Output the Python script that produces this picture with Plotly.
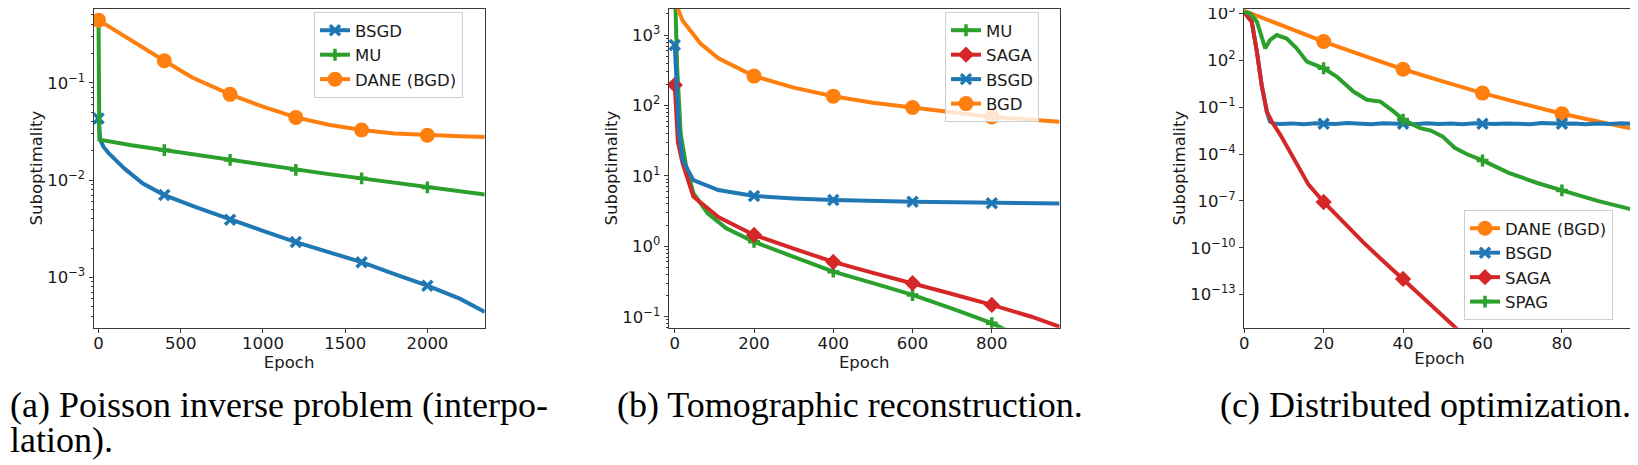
import math
import plotly.graph_objects as go

W, H = 1638, 465
# the page body keeps its default 8px margin, so the figure starts 8px in
PAGE = 8
FW, FH = W - PAGE, H - PAGE

BLUE, ORANGE, GREEN, RED = "#1f77b4", "#ff7f0e", "#2ca02c", "#d62728"
FRAME = "#3a3a3a"
TEXT = "#1a1a1a"

# ---------------- (a) Poisson inverse problem ----------------
A_BSGD_X = [0, 10, 30, 60, 100, 160, 270, 400, 600, 800, 1000, 1200, 1400, 1600, 1800, 2000, 2200, 2350]
A_BSGD_Y = [0.043, 0.026, 0.022, 0.019, 0.0163, 0.0130, 0.0092, 0.0070, 0.0052, 0.0039, 0.0030,
            0.0023, 0.0018, 0.00143, 0.00108, 0.00082, 0.00060, 0.00044]
A_MU_X = [0, 5, 200, 400, 600, 800, 1000, 1200, 1400, 1600, 1800, 2000, 2200, 2350]
A_MU_Y = [0.44, 0.026, 0.0228, 0.0203, 0.0181, 0.0161, 0.0143, 0.0127, 0.0115, 0.0104, 0.0094,
          0.0084, 0.0077, 0.0071]
A_DANE_X = [0, 200, 400, 570, 800, 1000, 1200, 1400, 1600, 1800, 2000, 2200, 2350]
A_DANE_Y = [0.44, 0.27, 0.168, 0.113, 0.076, 0.0567, 0.044, 0.037, 0.0327, 0.030, 0.0288, 0.0281, 0.0276]
A_MARKS = [0, 400, 800, 1200, 1600, 2000]
A_XTICKS = [0, 500, 1000, 1500, 2000]
A_YTICKS = [1e-3, 1e-2, 1e-1]
A_YTEXT = ["10<sup>−3</sup>", "10<sup>−2</sup>", "10<sup>−1</sup>"]

# ---------------- (b) Tomographic reconstruction ----------------
B_MU_X = [0, 6, 15, 29, 47, 83, 130, 200, 300, 400, 500, 600, 700, 800, 840]
B_MU_Y = [6000, 355, 40, 13.5, 5.7, 2.95, 1.8, 1.16, 0.71, 0.437, 0.30, 0.204, 0.13, 0.081, 0.063]
B_SAGA_X = [0, 8, 20, 47, 110, 200, 300, 400, 500, 600, 700, 800, 900, 971]
B_SAGA_Y = [196, 30, 15, 5.1, 2.6, 1.45, 0.93, 0.60, 0.42, 0.30, 0.21, 0.147, 0.10, 0.072]
B_BSGD_X = [0, 5, 11, 20, 47, 110, 200, 300, 400, 600, 800, 971]
B_BSGD_Y = [727, 150, 40, 16.8, 8.7, 6.3, 5.2, 4.8, 4.55, 4.3, 4.1, 4.05]
B_BGD_X = [0, 10, 20, 65, 110, 200, 300, 400, 500, 600, 700, 800, 900, 971]
B_BGD_Y = [3500, 2200, 1600, 760, 470, 262, 180, 136, 110, 94, 80, 69, 63, 59]
B_MARKS = [0, 200, 400, 600, 800]
B_XTICKS = [0, 200, 400, 600, 800]
B_YTICKS = [1e-1, 1, 10, 100, 1000]
B_YTEXT = ["10<sup>−1</sup>", "10<sup>0</sup>", "10<sup>1</sup>", "10<sup>2</sup>", "10<sup>3</sup>"]

# ---------------- (c) Distributed optimization ----------------
C_DANE_X = [0, 10, 20, 30, 40, 50, 60, 70, 80, 90, 98.4]
C_DANE_Y = [1.5e5, 1.5e4, 1.6e3, 2.0e2, 27, 4.5, 0.8, 0.17, 0.038, 0.011, 0.0038]
C_BSGD_X = [0, 1.9, 3.2, 4.4, 5.7, 6.5, 7.5, 9, 12, 15, 18, 20, 23, 26, 29, 32, 35, 38, 40, 43,
            46, 49, 52, 55, 58, 60, 63, 66, 69, 72, 75, 78, 80, 83, 86, 89, 92, 95, 98.4]
C_BSGD_Y = [1.2e5, 3.0e4, 3.5e2, 2.6, 0.052, 0.012, 0.0090, 0.0084, 0.0092, 0.0080, 0.0094, 0.0086,
            0.0083, 0.0097, 0.0085, 0.0081, 0.0093, 0.0088, 0.0086, 0.0082, 0.0095, 0.0084, 0.0091,
            0.0080, 0.0094, 0.0086, 0.0083, 0.0092, 0.0087, 0.0081, 0.0096, 0.0084, 0.0086, 0.0092,
            0.0082, 0.0090, 0.0085, 0.0094, 0.0083]
C_SAGA_X = [0, 1.9, 3.2, 4.4, 5.7, 6.9, 9.1, 12.5, 16.2, 20, 25, 30, 35, 40, 45, 50, 54]
C_SAGA_Y = [1.2e5, 3.0e4, 3.5e2, 2.6, 5.2e-2, 1.26e-2, 1.7e-3, 5.0e-5, 1.1e-6, 8.5e-8, 4.0e-9,
            2.2e-10, 1.4e-11, 1.0e-12, 6.3e-14, 4.5e-15, 5.0e-16]
C_SPAG_X = [0, 1.5, 3.2, 4.8, 5.3, 6.5, 8.2, 10.7, 13.2, 15.8, 20, 23.3, 27.5, 30.9, 34.3, 37.6,
            40, 44.3, 47, 50, 53, 56, 60, 66.6, 73.8, 80, 89, 98.4]
C_SPAG_Y = [1.3e5, 1.0e5, 3.0e4, 1.6e3, 5.9e2, 2.0e3, 4.2e3, 2.5e3, 5.9e2, 83, 31, 9.1, 1.0, 0.30,
            0.23, 0.054, 0.016, 4.6e-3, 3.2e-3, 1.3e-3, 2.5e-4, 1.0e-4, 3.9e-5, 6.3e-6, 1.4e-6,
            4.7e-7, 1.0e-7, 2.5e-8]
C_MARKS = [20, 40, 60, 80]
C_XTICKS = [0, 20, 40, 60, 80]
C_YTICKS = [1e-13, 1e-10, 1e-7, 1e-4, 1e-1, 1e2, 1e5]
C_YTEXT = ["10<sup>−13</sup>", "10<sup>−10</sup>", "10<sup>−7</sup>", "10<sup>−4</sup>",
           "10<sup>−1</sup>", "10<sup>2</sup>", "10<sup>5</sup>"]

CAPTIONS = [
    "(a) Poisson inverse problem (interpo-",
    "lation).",
    "(b) Tomographic reconstruction.",
    "(c) Distributed optimization.",
]

STYLE = {
    "BSGD": (BLUE, "x-thin", 10),
    "MU": (GREEN, "cross-thin", 8.5),
    "SPAG": (GREEN, "cross-thin", 8.5),
    "SAGA": (RED, "diamond", 12.5),
    "BGD": (ORANGE, "circle", 15),
    "DANE (BGD)": (ORANGE, "circle", 15),
}

fig = go.Figure()


def add_series(xs, ys, marks, name, ax, legend):
    color, symbol, size = STYLE[name]
    xa, ya = ("x", "y") if ax == 1 else (f"x{ax}", f"y{ax}")
    thin = symbol.endswith("thin")
    marker = dict(symbol=symbol, size=size, color=color,
                  line=dict(color=color, width=3.5 if thin else 0))
    line = dict(color=color, width=4)
    mx = [x for x in xs if x in marks]
    my = [y for x, y in zip(xs, ys) if x in marks]
    fig.add_trace(go.Scatter(x=xs, y=ys, mode="lines", line=line, xaxis=xa, yaxis=ya,
                             showlegend=False, hoverinfo="skip"))
    fig.add_trace(go.Scatter(x=mx, y=my, mode="markers", marker=marker, xaxis=xa, yaxis=ya,
                             showlegend=False, name=name))
    # legend-only entry showing both line and marker
    fig.add_trace(go.Scatter(x=[None], y=[None], mode="lines+markers", line=line, marker=marker,
                             xaxis=xa, yaxis=ya, name=name, legend=legend))


add_series(A_BSGD_X, A_BSGD_Y, A_MARKS, "BSGD", 1, "legend")
add_series(A_MU_X, A_MU_Y, A_MARKS, "MU", 1, "legend")
add_series(A_DANE_X, A_DANE_Y, A_MARKS, "DANE (BGD)", 1, "legend")

add_series(B_MU_X, B_MU_Y, B_MARKS, "MU", 2, "legend2")
add_series(B_SAGA_X, B_SAGA_Y, B_MARKS, "SAGA", 2, "legend2")
add_series(B_BSGD_X, B_BSGD_Y, B_MARKS, "BSGD", 2, "legend2")
add_series(B_BGD_X, B_BGD_Y, B_MARKS, "BGD", 2, "legend2")

add_series(C_DANE_X, C_DANE_Y, C_MARKS, "DANE (BGD)", 3, "legend3")
add_series(C_BSGD_X, C_BSGD_Y, C_MARKS, "BSGD", 3, "legend3")
add_series(C_SAGA_X, C_SAGA_Y, C_MARKS, "SAGA", 3, "legend3")
add_series(C_SPAG_X, C_SPAG_Y, C_MARKS, "SPAG", 3, "legend3")


# window pixel -> paper fraction
def px(v):
    return (v - PAGE) / FW


def py(v):
    return 1 - (v - PAGE) / FH


Y_DOM = [py(327.7), py(8.5)]
FONT = "DejaVu Sans"
TICKFONT = dict(family=FONT, size=16.5, color=TEXT)


def x_axis(left, right, rng, ticks, anchor):
    return dict(domain=[px(left), px(right)], range=rng, anchor=anchor, automargin=False,
                tickmode="array", tickvals=ticks, ticktext=[str(t) for t in ticks],
                showline=True, mirror=True, linecolor=FRAME, linewidth=1.2,
                ticks="outside", ticklen=4, tickwidth=1.2, tickcolor=FRAME,
                ticklabelstandoff=-4,
                showgrid=False, zeroline=False, tickfont=TICKFONT, ticklabeloverflow="allow",
                title=dict(text="Epoch", font=TICKFONT, standoff=0))


def y_axis(rng, ticks, text, anchor, minor=True):
    lo, hi = math.floor(rng[0]), math.ceil(rng[1])
    minor_vals = [m * 10 ** k for k in range(lo, hi) for m in range(2, 10)] if minor else []
    return dict(domain=Y_DOM, type="log", range=rng, anchor=anchor, automargin=False,
                tickmode="array", tickvals=ticks, ticktext=text,
                showline=True, mirror=True, linecolor=FRAME, linewidth=1.2,
                ticks="outside", ticklen=4, tickwidth=1.2, tickcolor=FRAME,
                minor=dict(tickmode="array", tickvals=minor_vals, ticks="outside",
                           ticklen=2, tickwidth=1, tickcolor=FRAME, showgrid=False),
                showgrid=False, zeroline=False, tickfont=TICKFONT, ticklabeloverflow="allow",
                title=dict(text="Suboptimality", font=TICKFONT, standoff=0))


def legend_box(left, top):
    return dict(x=px(left), y=py(top), xanchor="left", yanchor="top",
                bgcolor="rgba(255,255,255,0.8)", bordercolor="#cfcfcf", borderwidth=1,
                font=dict(family=FONT, size=16.5, color=TEXT), itemwidth=30,
                tracegroupgap=0, itemclick=False)


fig.update_layout(
    width=FW, height=FH,
    margin=dict(l=0, r=0, t=0, b=0, pad=0, autoexpand=False),
    paper_bgcolor="white", plot_bgcolor="white",
    font=dict(family=FONT, size=16.5, color=TEXT),
    xaxis=x_axis(93.6, 484.6, [-30, 2348], A_XTICKS, "y"),
    yaxis=y_axis([-3.518, -0.237], A_YTICKS, A_YTEXT, "x"),
    xaxis2=x_axis(668.8, 1059.6, [-15, 971], B_XTICKS, "y2"),
    yaxis2=y_axis([-1.156, 3.379], B_YTICKS, B_YTEXT, "x2"),
    xaxis3=x_axis(1244.0, 1635.0, [-0.05, 98.4], C_XTICKS, "y3"),
    yaxis3=y_axis([-15.12, 5.32], C_YTICKS, C_YTEXT, "x3", minor=False),
    legend=legend_box(314, 12),
    legend2=legend_box(945, 12),
    legend3=legend_box(1464, 210),
)

CAP_POS = [(PAGE, 405), (PAGE, 440), (615, 405), (1218, 405)]
for text, (cx, cy) in zip(CAPTIONS, CAP_POS):
    fig.add_annotation(text=text, xref="paper", yref="paper", x=px(cx), y=py(cy),
                       xanchor="left", yanchor="middle", align="left", showarrow=False,
                       font=dict(family="Liberation Serif", size=36, color="black"))

fig.write_html("out.html")
